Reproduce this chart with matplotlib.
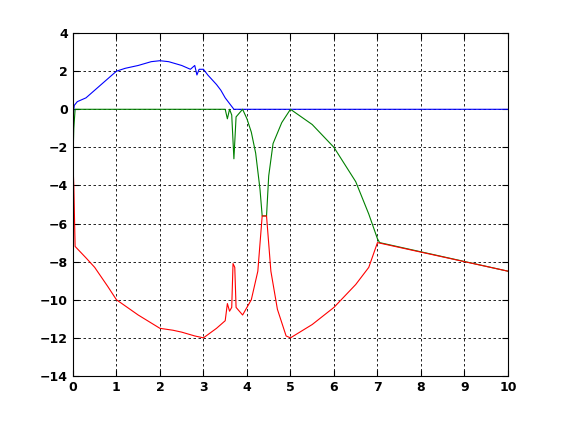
import matplotlib
matplotlib.use('Agg')
import matplotlib.pyplot as plt

# blue curve
bx = [0, 0.03, 0.1, 0.3, 0.5, 0.8, 1.0, 1.2, 1.5, 1.8, 2.0, 2.2, 2.5, 2.7, 2.8, 2.85, 2.9, 3.0,
      3.1, 3.3, 3.4, 3.5, 3.6, 3.7, 4.0, 6.0, 8.0, 10.0]
by = [-0.5, 0.2, 0.4, 0.6, 1.0, 1.6, 2.0, 2.15, 2.3, 2.5, 2.55, 2.5, 2.3, 2.1, 2.3, 1.8, 2.1, 2.1,
      1.8, 1.3, 1.0, 0.6, 0.3, 0.0, 0.0, 0.0, 0.0, 0.0]

# green curve
gx = [0, 0.02, 0.05, 1.0, 2.0, 3.0, 3.5, 3.55, 3.6, 3.65, 3.7, 3.75, 3.9, 4.0, 4.1, 4.2, 4.3, 4.35,
      4.45, 4.5, 4.6, 4.8, 5.0, 5.5, 6.0, 6.5, 6.8, 7.0, 7.05, 10.0]
gy = [-2.7, -1.0, 0.0, 0.0, 0.0, 0.0, 0.0, -0.5, 0.0, -0.3, -2.6, -0.4, 0.0, -0.5, -1.2, -2.3, -4.2, -5.6,
      -5.6, -3.5, -1.8, -0.7, 0.0, -0.8, -2.0, -3.8, -5.5, -6.8, -7.0, -8.5]

# red curve
rx = [0, 0.02, 0.05, 0.3, 0.5, 0.8, 1.0, 1.5, 2.0, 2.3, 2.5, 2.8, 3.0, 3.3, 3.5, 3.55, 3.6, 3.65,
      3.68, 3.72, 3.75, 3.9, 4.1, 4.25, 4.35, 4.45, 4.55, 4.7, 4.9, 5.0, 5.5, 6.0, 6.5, 6.8, 7.0, 10.0]
ry = [-2.8, -4.0, -7.2, -7.8, -8.3, -9.3, -10.0, -10.8, -11.5, -11.6, -11.7, -11.9, -12.0, -11.5, -11.1, -10.2, -10.6, -10.4,
      -8.1, -8.3, -10.4, -10.8, -10.0, -8.5, -5.6, -5.6, -8.5, -10.5, -11.9, -12.0, -11.3, -10.4, -9.2, -8.3, -7.0, -8.5]

fig = plt.figure(figsize=(5.61, 4.21), dpi=100)
ax = fig.add_axes([0.130, 0.107, 0.7755, 0.8144])
ax.plot(bx, by, color='blue', lw=0.8)
ax.plot(gx, gy, color='green', lw=0.8)
ax.plot(rx, ry, color='red', lw=0.8)
ax.set_xlim(0, 10)
ax.set_ylim(-14, 4)
ax.set_xticks(range(0, 11))
ax.set_yticks(range(-14, 5, 2))
ax.grid(True, color='black', linestyle=(0, (3, 3)), linewidth=0.6)
ax.tick_params(direction='in', labelsize=9, length=4, top=True, right=True)
for lab in ax.get_xticklabels() + ax.get_yticklabels():
    lab.set_fontweight('bold')
fig.savefig('out.png', dpi=100)
